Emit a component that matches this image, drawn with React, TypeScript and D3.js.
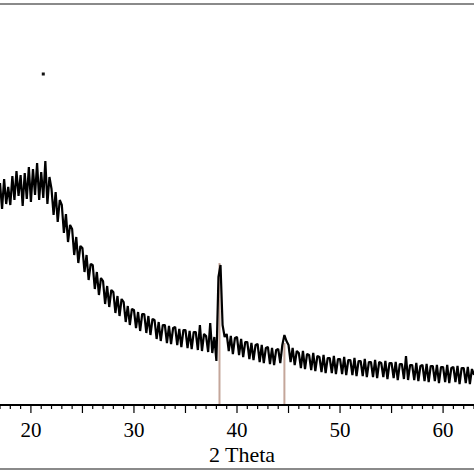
import { useRef, useEffect } from 'react';
import * as d3 from 'd3';

// 2θ grid of the scan (start and step)
const TT_START = 17;
const TT_STEP = 0.2;

// intensity, 5 points per degree from 17 to 63
const intensity = [
  222, 196, 226, 201, 218, // 17
  200, 229, 205, 234, 209, // 18
  230, 199, 232, 206, 238, // 19
  203, 236, 210, 242, 205, // 20
  233, 207, 244, 201, 228, // 21
  216, 190, 213, 183, 205, // 22
  200, 172, 191, 163, 180, // 23
  176, 150, 168, 142, 159, // 24
  157, 133, 150, 125, 141, // 25
  140, 116, 133, 110, 127, // 26
  124, 101, 119, 98, 115,  // 27
  113, 92, 109, 89, 106,   // 28
  103, 83, 99, 80, 96,     // 29
  95, 77, 93, 74, 91,      // 30
  91, 72, 89, 70, 86,      // 31
  85, 66, 83, 64, 80,      // 32
  80, 62, 79, 61, 77,      // 33
  78, 60, 76, 58, 75,      // 34
  75, 57, 74, 56, 73,      // 35
  73, 55, 80, 54, 71,      // 36
  69, 53, 82, 52, 68,      // 37
  44, 128, 140, 80, 68,    // 38
  71, 54, 69, 51, 67,      // 39
  68, 50, 66, 48, 63,      // 40
  63, 46, 62, 45, 60,      // 41
  61, 43, 60, 42, 57,      // 42
  58, 41, 57, 40, 55,      // 43
  56, 42, 60, 70, 64,      // 44
  60, 43, 57, 40, 54,      // 45
  52, 37, 54, 36, 51,      // 46
  50, 35, 52, 34, 49,      // 47
  48, 33, 50, 32, 47,      // 48
  47, 32, 49, 31, 46,      // 49
  46, 31, 48, 30, 45,      // 50
  45, 30, 47, 29, 44,      // 51
  44, 29, 46, 28, 43,      // 52
  43, 28, 45, 27, 43,      // 53
  42, 28, 44, 26, 42,      // 54
  42, 27, 43, 25, 41,      // 55
  41, 26, 49, 25, 40,      // 56
  40, 25, 42, 24, 39,      // 57
  40, 24, 41, 23, 39,      // 58
  39, 24, 40, 22, 38,      // 59
  38, 23, 40, 22, 37,      // 60
  38, 23, 39, 21, 37,      // 61
  37, 22, 38, 21, 36,      // 62
  30,                      // 63
];

// reference pattern lines (2θ, height)
const refAngles = [38.3, 44.6];
const refHeights = [142, 62];

// stray point near the top left
const strayPoint = [21.2, 331];

const xTicks = [20, 30, 40, 50, 60];

export default function App() {
  const svgRef = useRef<SVGSVGElement | null>(null);

  useEffect(() => {
    const svg = d3.select(svgRef.current);
    svg.selectAll('*').remove();
    const W = 474, H = 474;
    const axisY = 405;

    const x = d3.scaleLinear().domain([17, 63]).range([0, W]);
    const y = d3.scaleLinear().domain([0, 400]).range([axisY, 5]);

    svg.append('rect').attr('width', W).attr('height', H).attr('fill', '#fff');

    // frame lines top and bottom
    svg.append('line').attr('x1', 0).attr('x2', W).attr('y1', 4).attr('y2', 4)
      .attr('stroke', '#8a8a8a').attr('stroke-width', 2);
    svg.append('line').attr('x1', 0).attr('x2', W).attr('y1', 469).attr('y2', 469)
      .attr('stroke', '#8a8a8a').attr('stroke-width', 2);

    // reference lines
    svg.selectAll('.ref')
      .data(refAngles)
      .enter()
      .append('line')
      .attr('class', 'ref')
      .attr('x1', d => x(d)).attr('x2', d => x(d))
      .attr('y1', y(0)).attr('y2', (d, i) => y(refHeights[i]))
      .attr('stroke', '#c4a69a')
      .attr('stroke-width', 2);

    // pattern
    const pts = intensity.map((v, i) => [TT_START + i * TT_STEP, v] as [number, number]);
    const line = d3.line<[number, number]>().x(d => x(d[0])).y(d => y(d[1]));
    svg.append('path')
      .datum(pts)
      .attr('d', line)
      .attr('fill', 'none')
      .attr('stroke', '#000')
      .attr('stroke-width', 2.2)
      .attr('stroke-linejoin', 'bevel');

    svg.append('rect')
      .attr('x', x(strayPoint[0]) - 1.5)
      .attr('y', y(strayPoint[1]) - 1.5)
      .attr('width', 3).attr('height', 3)
      .attr('fill', '#111');

    // x axis
    const minor = d3.range(17, 64, 1);
    svg.selectAll('.tick')
      .data(minor)
      .enter()
      .append('line')
      .attr('x1', d => x(d)).attr('x2', d => x(d))
      .attr('y1', axisY)
      .attr('y2', d => axisY + (d % 5 === 0 ? 8 : 4))
      .attr('stroke', '#000')
      .attr('stroke-width', 1.2);

    svg.append('line').attr('x1', 0).attr('x2', W).attr('y1', axisY).attr('y2', axisY)
      .attr('stroke', '#000').attr('stroke-width', 2);

    svg.selectAll('.xl')
      .data(xTicks)
      .enter()
      .append('text')
      .attr('x', d => x(d))
      .attr('y', 437)
      .attr('text-anchor', 'middle')
      .style('font-family', '"Liberation Serif", serif')
      .style('font-size', '21px')
      .text(d => d);

    svg.append('text')
      .attr('x', 242)
      .attr('y', 462)
      .attr('text-anchor', 'middle')
      .style('font-family', '"Liberation Serif", serif')
      .style('font-size', '22px')
      .text('2 Theta');
  }, []);

  return (
    <svg ref={svgRef} width={474} height={474}
      style={{ position: 'absolute', left: 0, top: 0, display: 'block' }} />
  );
}
